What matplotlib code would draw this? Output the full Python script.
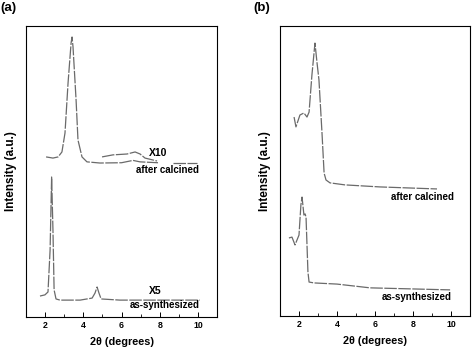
import matplotlib
matplotlib.use("Agg")
import matplotlib.pyplot as plt

plt.rcParams['font.family'] = ['Liberation Sans', 'DejaVu Sans']
plt.rcParams['font.weight'] = 'bold'

# (a) after calcined
a_cal_x = [2.05, 2.41, 2.68, 2.88, 3.04, 3.20, 3.36, 3.41, 3.46, 3.62, 3.72, 3.93, 4.19, 4.87, 6.0, 6.6, 6.97, 7.91]
a_cal_y = [55.0, 54.6, 55.0, 56.7, 63.2, 80.4, 94.2, 96.2, 92.8, 74.6, 60.8, 55.0, 53.3, 52.9, 53.0, 53.8, 53.3, 53.0]
# (a) after calcined, x10 zoom
a_x10_x = [4.98, 5.55, 6.29, 6.71, 6.97, 7.23, 7.86]
a_x10_y = [55.0, 55.7, 56.0, 56.7, 56.0, 54.6, 53.6]
a_tail_x = [8.7, 9.95]
a_tail_y = [52.9, 52.9]
# (a) as-synthesized
a_syn_x = [1.73, 1.99, 2.15, 2.26, 2.34, 2.41, 2.47, 2.57, 2.78, 3.83, 4.46, 4.61, 4.72, 4.82, 4.93, 5.92, 10.1]
a_syn_y = [7.2, 7.6, 8.6, 23.0, 48.1, 29.9, 9.3, 6.2, 5.8, 5.8, 6.5, 8.2, 10.3, 8.2, 6.2, 5.8, 5.8]

# (b) after calcined
b_cal_x = [1.74, 1.84, 2.05, 2.26, 2.42, 2.53, 2.68, 2.84, 2.95, 3.05, 3.21, 3.32, 3.42, 3.63, 4.42, 6.26, 9.26]
b_cal_y = [68.6, 65.2, 69.3, 70.0, 68.6, 70.3, 83.1, 94.1, 87.2, 81.4, 63.1, 49.3, 46.9, 45.9, 45.2, 44.5, 43.8]
# (b) as-synthesized
b_syn_x = [1.47, 1.63, 1.79, 2.0, 2.1, 2.16, 2.26, 2.32, 2.37, 2.47, 2.53, 2.79, 4.0, 5.74, 9.95]
b_syn_y = [26.9, 27.2, 24.5, 27.9, 38.3, 41.0, 34.8, 35.2, 34.1, 15.2, 11.7, 11.4, 11.0, 9.7, 9.0]

xticks = [2, 4, 6, 8, 10]

line_kw = dict(color='#6a6a6a', lw=0.9, linestyle=(0, (10, 1.2)))

fig = plt.figure(figsize=(4.74, 3.49), dpi=100)
ax1 = fig.add_axes([0.0549, 0.0917, 0.403, 0.834])
ax2 = fig.add_axes([0.5907, 0.0946, 0.401, 0.831])

ax1.plot(a_cal_x, a_cal_y, **line_kw)
ax1.plot(a_x10_x, a_x10_y, **line_kw)
ax1.plot(a_tail_x, a_tail_y, **line_kw)
ax1.plot(a_syn_x, a_syn_y, **line_kw)
ax1.text(7.45, 56.5, "X10", fontsize=7.5, fontweight='bold', va='center')
ax1.text(10.05, 50.5, "after calcined", fontsize=7, fontweight='bold', ha='right', va='center')
ax1.text(7.45, 8.8, "X5", fontsize=7.5, fontweight='bold', va='center')
ax1.text(10.1, 4.1, "as-synthesized", fontsize=7, fontweight='bold', ha='right', va='center')

ax2.plot(b_cal_x, b_cal_y, **line_kw)
ax2.plot(b_syn_x, b_syn_y, **line_kw)
ax2.text(10.15, 41.0, "after calcined", fontsize=7, fontweight='bold', ha='right', va='center')
ax2.text(10.05, 6.6, "as-synthesized", fontsize=7, fontweight='bold', ha='right', va='center')

for ax in (ax1, ax2):
    ax.set_xlim(1, 11)
    ax.set_ylim(0, 100)
    ax.set_xticks(xticks)
    ax.set_xticks([3, 5, 7, 9], minor=True)
    ax.set_yticks([])
    ax.tick_params(axis='x', which='major', direction='in', length=3.5, width=0.7, labelsize=6.3, pad=3)
    ax.tick_params(axis='x', which='minor', direction='in', length=2, width=0.6)
    for lab in ax.get_xticklabels():
        lab.set_fontweight('bold')
    for s in ax.spines.values():
        s.set_linewidth(0.8)
    ax.text(0.5, -0.086, "2\u03b8 (degrees)", transform=ax.transAxes, fontsize=7.8,
            fontweight='bold', ha='center', va='center')
    ax.text(-0.079, 0.5, "Intensity (a.u.)", transform=ax.transAxes, fontsize=8.5,
            fontweight='bold', ha='center', va='center', rotation=90)

fig.text(0.0, 1 - 8 / 349, "(a)", fontsize=9.5, fontweight='bold', va='center')
fig.text(253 / 474, 1 - 8 / 349, "(b)", fontsize=9.5, fontweight='bold', va='center')

fig.savefig("out.png", dpi=100)
